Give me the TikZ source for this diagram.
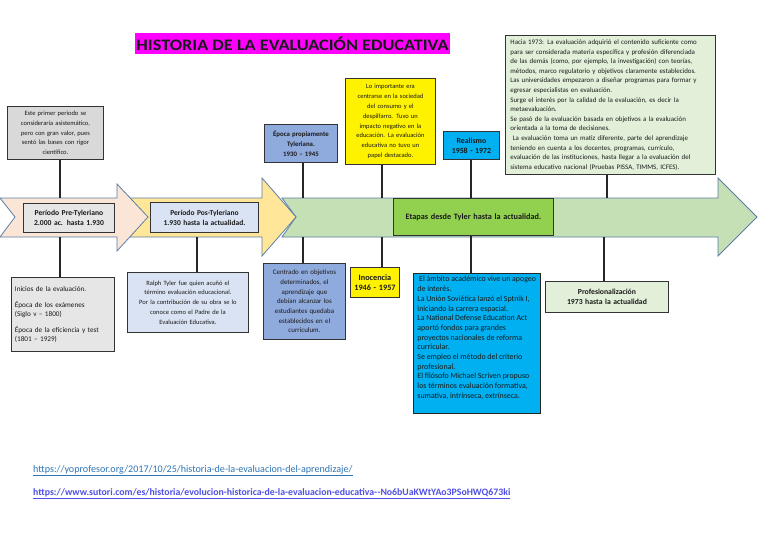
\documentclass[tikz,border=0pt]{standalone}
\usepackage{fontspec}
\setmainfont{Carlito}
\definecolor{pinkA}{HTML}{FBE5D6}
\definecolor{yellowA}{HTML}{FFE699}
\definecolor{greenA}{HTML}{C5E0B4}
\definecolor{arrEdge}{HTML}{5B7FA6}
\definecolor{grayTop}{HTML}{D9D9D9}
\definecolor{grayBox}{HTML}{E7E6E6}
\definecolor{paleBlue}{HTML}{DAE3F3}
\definecolor{midBlue}{HTML}{8FAADC}
\definecolor{cyanBox}{HTML}{00B0F0}
\definecolor{paleGreen}{HTML}{E2F0D9}
\definecolor{limeBox}{HTML}{92D050}
\definecolor{titleMag}{HTML}{FF00FF}
\definecolor{linkOne}{HTML}{2E74B5}
\definecolor{linkTwo}{HTML}{5050E6}
\begin{document}
\begin{tikzpicture}[x=1pt,y=-1pt,
  box/.style={draw=black!80, line width=0.9pt, inner sep=0pt, anchor=north west, align=center,
    font=\fontsize{6.5}{9.8}\selectfont, text=black!90},
  boldbox/.style={box, font=\bfseries\fontsize{#1}{10}\selectfont},
  boldbox/.default=6.8,
  conn/.style={line width=1.2pt, draw=black!85},
  arr/.style={draw=arrEdge, line width=0.8pt, line join=miter}]
\useasboundingbox (0,0) rectangle (768,544);
\fill[white] (0,0) rectangle (768,544);

% title
\node[fill=titleMag, inner xsep=0pt, inner ysep=0pt, minimum width=315, minimum height=21,
  font=\bfseries\fontsize{16}{18}\selectfont, text=black!90] (title) at (292.5,43.5)
  {\scalebox{1.14}[1]{HISTORIA DE LA EVALUACIÓN EDUCATIVA}};

% arrows (back to front)
\draw[arr, fill=greenA] (282,198) -- (718,198) -- (718,178) -- (757,217) -- (718,256)
  -- (718,237) -- (282,237) -- (296,217) -- cycle;
\draw[arr, fill=yellowA] (125,198) -- (262,198) -- (262,178) -- (296,217) -- (262,256)
  -- (262,237) -- (125,237) -- cycle;
\draw[arr, fill=pinkA] (0,198) -- (117,198) -- (117,184) -- (148,217) -- (117,251)
  -- (117,237) -- (0,237) -- (15,217) -- cycle;

% top boxes
\node[box, fill=grayTop, minimum width=96, minimum height=53, text width=92] (a) at (7,106)
  {Este primer periodo se\\ consideraría asistemático,\\ pero con gran valor, pues\\ sentó las bases con rigor\\ científico.};
\node[boldbox, fill=midBlue, minimum width=73, minimum height=38, text width=70] (b) at (264,124)
  {Época propiamente\\ Tyleriana.\\ 1930 – 1945};
\node[box, fill=yellow, minimum width=90, minimum height=86, text width=86] (c) at (345,78)
  {Lo importante era\\ centrarse en la sociedad\\ del consumo y el\\ despilfarro. Tuvo un\\ impacto negativo en la\\ educación. La evaluación\\ educativa no tuvo un\\ papel destacado.};
\node[boldbox=7.8, fill=cyanBox, minimum width=56, minimum height=28, text width=54] (d) at (443,131)
  {Realismo\\ 1958 - 1972};
\node[box, fill=paleGreen, minimum width=210, minimum height=139, text width=200, align=left,
  font=\fontsize{6.9}{9.6}\selectfont] (e) at (505,35)
  {Hacia 1973: La evaluación adquirió el contenido suficiente como\\
   para ser considerada materia específica y profesión diferenciada\\
   de las demás (como, por ejemplo, la investigación) con teorías,\\
   métodos, marco regulatorio y objetivos claramente establecidos.\\
   Las universidades empezaron a diseñar programas para formar y\\
   egresar especialistas en evaluación.\\
   Surge el interés por la calidad de la evaluación, es decir la\\
   metaevaluación.\\
   Se pasó de la evaluación basada en objetivos a la evaluación\\
   orientada a la toma de decisiones.\\
   \ La evaluación toma un matiz diferente, parte del aprendizaje\\
   teniendo en cuenta a los docentes, programas, currículo,\\
   evaluación de las instituciones, hasta llegar a la evaluación del\\
   sistema educativo nacional (Pruebas PISSA, TIMMS, ICFES).};

% bottom boxes
\node[box, fill=grayBox, minimum width=103, minimum height=74, text width=96, align=left,
  font=\fontsize{7.2}{9}\selectfont] (f) at (11,277)
  {Inicios de la evaluación.\\[7pt]
   Época de los exámenes\\ (Siglo v – 1800)\\[7pt]
   Época de la eficiencia y test\\ (1801 – 1929)};
\node[box, fill=paleBlue, minimum width=121, minimum height=60, text width=117] (g) at (127,272)
  {Ralph Tyler fue quien acuñó el\\ término evaluación educacional.\\ Por la contribución de su obra se lo\\ conoce como el Padre de la\\ Evaluación Educativa.};
\node[box, fill=midBlue, minimum width=82, minimum height=76, text width=80,
  font=\fontsize{6.9}{9.7}\selectfont] (h) at (263,263)
  {Centrado en objetivos\\ determinados, el\\ aprendizaje que\\ debían alcanzar los\\ estudiantes quedaba\\ establecidos en el\\ curriculum.};
\node[boldbox=8.2, fill=yellow, minimum width=49, minimum height=30, text width=47] (i) at (350,267)
  {Inocencia\\ 1946 - 1957};
\node[box, fill=cyanBox, draw=black!85, minimum width=127, minimum height=140, align=left,
  font=\fontsize{7.9}{9.7}\selectfont] (j) at (413,273)
  {\begin{minipage}[c][134pt][t]{119pt}\raggedright
   \ El ámbito académico vive un apogeo\\
   de interés.\\
   La Unión Soviética lanzó el Sptnik I,\\
   iniciando la carrera espacial.\\
   La National Defense Education Act\\
   aportó fondos para grandes\\
   proyectos nacionales de reforma\\
   curricular.\\
   Se empleo el método del criterio\\
   profesional.\\
   El filósofo Michael Scriven propuso\\
   los términos evaluación formativa,\\
   sumativa, intrínseca, extrínseca.
   \end{minipage}};
\node[boldbox=7.7, fill=paleGreen, minimum width=123, minimum height=31, text width=120] (k) at (545,281)
  {Profesionalización\\ 1973 hasta la actualidad};

% connector attachment points on the arrows
\coordinate (t1) at (60,198);   \coordinate (u1) at (60,237);
\coordinate (u2) at (197,237);
\coordinate (t3) at (303,198);  \coordinate (u3) at (303,237);
\coordinate (t4) at (382,198);  \coordinate (u4) at (382,237);
\coordinate (t6) at (607,198);  \coordinate (u6) at (604,237);

\draw[conn] (t1 |- a.south) -- (t1);
\draw[conn] (u1) -- (u1 |- f.north);
\draw[conn, line width=2.6pt] (u2) -- (u2 |- g.north);
\draw[conn] (t3 |- b.south) -- (t3);
\draw[conn] (u3) -- (u3 |- h.north);
\draw[conn, line width=1.5pt] (t4 |- c.south) -- (t4);
\draw[conn, line width=1.5pt] (u4) -- (u4 |- i.north);
\draw[conn, line width=2pt] (d.south) -- (d.south |- j.north);
\draw[conn, line width=1.5pt] (t6 |- e.south) -- (t6);
\draw[conn, line width=1.5pt] (u6) -- (u6 |- k.north);

% labels on the arrows
\node[boldbox=7.6, fill=grayBox, minimum width=91, minimum height=29, text width=88] (l) at (23,203)
  {Período Pre-Tyleriano\\ 2.000 ac. hasta 1.930};
\node[boldbox=7.5, fill=paleBlue, minimum width=108, minimum height=30, text width=105] (m) at (150,202)
  {Período Pos-Tyleriano\\ 1.930 hasta la actualidad.};
\node[boldbox, fill=limeBox, minimum width=160, minimum height=37, text width=156,
  font=\bfseries\fontsize{8.2}{9}\selectfont] (n) at (393,198)
  {Etapas desde Tyler hasta la actualidad.};

% links
\node[anchor=base west, inner sep=0pt, text=linkOne, font=\fontsize{10.1}{10}\selectfont] (link1) at (33,472)
  {\underline{https://yoprofesor.org/2017/10/25/historia-de-la-evaluacion-del-aprendizaje/}};
\node[anchor=base west, inner sep=0pt, text=linkTwo, font=\bfseries\fontsize{9.8}{10}\selectfont] (link2) at (33,495)
  {\underline{https://www.sutori.com/es/historia/evolucion-historica-de-la-evaluacion-educativa-\kern0.3pt-No6bUaKWtYAo3PSoHWQ673ki}};
\end{tikzpicture}
\end{document}
